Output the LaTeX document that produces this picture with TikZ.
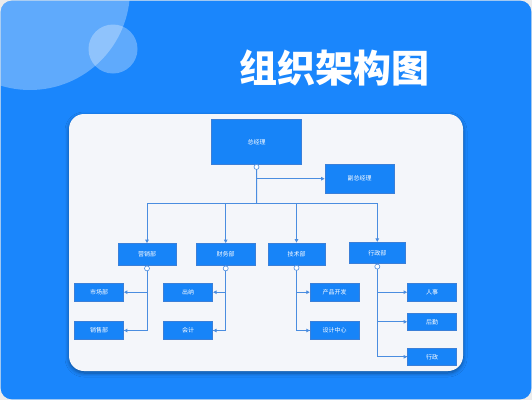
\documentclass[tikz,border=0pt]{standalone}
\usepackage{fontspec}
\newfontfamily\cjk{Noto Sans CJK SC}
\usetikzlibrary{arrows.meta,shadows.blur}
\definecolor{bgblue}{HTML}{1A86FC}
\definecolor{nodeblue}{HTML}{1784F8}
\definecolor{nodeedge}{HTML}{3A7FD8}
\definecolor{linkblue}{HTML}{4A8DE0}
\definecolor{panel}{HTML}{F4F6FA}
\tikzset{
  org/.style={draw=nodeedge, line width=0.8pt, fill=nodeblue, text=white, font=\cjk\fontsize{6}{7}\selectfont, inner sep=0pt, minimum width=#1, anchor=center},
  lvl1/.style={org=58pt, minimum height=22pt},
  lvl2/.style={org=49pt, minimum height=17.7pt},
  link/.style={draw=linkblue, line width=1pt, -{Triangle[length=3.5pt,width=3.5pt]}},
  plain/.style={draw=linkblue, line width=1pt},
  knob/.style={circle, draw=linkblue, line width=0.6pt, fill=white, inner sep=0pt, minimum size=5pt},
}
\begin{document}
\begin{tikzpicture}[x=1pt,y=-1pt]
\useasboundingbox (0,0) rectangle (532,400);
% background
\fill[white!85!gray] (0,0) rectangle (532,400);
\begin{scope}
\clip[rounded corners=11pt] (0.7,0.7) rectangle (531.3,399.3);
\fill[bgblue] (0,0) rectangle (532,400);
\fill[white, opacity=0.3] (30,-10) circle (100);
\fill[white, opacity=0.3] (113,49) circle (24.5);
\end{scope}
\node[text=white, font=\cjk\bfseries\fontsize{38}{40}\selectfont, inner sep=0pt] (title) at (334,68) {组织架构图};
% panel
\fill[panel, rounded corners=15pt, blur shadow={shadow blur steps=8, shadow xshift=0pt, shadow yshift=-2pt, shadow blur radius=4pt, shadow opacity=40}] (69,114) rectangle (463,371);
% nodes
\node[org=89.6pt, minimum height=44.7pt] (ceo) at (256.5,141.7) {总经理};
\node[org=69pt, minimum height=28.7pt] (vp) at (359.5,178.7) {副总经理};
\node[lvl1] (mkt) at (147,254.5) {营销部};
\node[lvl1, minimum width=59pt] (fin) at (225.7,254.5) {财务部};
\node[lvl1, minimum width=57pt] (tech) at (296.5,254) {技术部};
\node[lvl1, minimum width=55.7pt, minimum height=21.4pt] (adm) at (377.3,253) {行政部};
\node[lvl2] (mk1) at (99,292.2) {市场部};
\node[lvl2] (mk2) at (99,330.5) {销售部};
\node[lvl2] (fi1) at (188.2,292.2) {出纳};
\node[lvl2] (fi2) at (188.2,330.5) {会计};
\node[lvl2] (te1) at (334.7,292.2) {产品开发};
\node[lvl2] (te2) at (334.7,330.5) {设计中心};
\node[lvl2] (ad1) at (432,292.2) {人事};
\node[lvl2] (ad2) at (432,321.8) {后勤};
\node[lvl2] (ad3) at (432,356.8) {行政};
% junction coordinates
\coordinate (bus) at (256.7,203.3);
\coordinate (busL) at (147,203.3);
\coordinate (busR) at (377.3,203.3);
% top connectors
\draw[plain] (ceo.south) -- (bus);
\draw[link] (ceo.south |- vp.west) -- (vp.west);
\draw[plain] (busL) -- (busR);
\draw[link] (busL) -- (mkt.north);
\draw[link] (bus -| fin.north) -- (fin.north);
\draw[link] (bus -| tech.north) -- (tech.north);
\draw[link] (busR) -- (adm.north);
% level-2 connectors
\draw[plain] (mkt.south) |- (mk2.east);
\draw[link] (mkt.south |- mk1.east) -- (mk1.east);
\draw[link] (mkt.south |- mk2.east) -- (mk2.east);
\draw[plain] (fin.south) |- (fi2.east);
\draw[link] (fin.south |- fi1.east) -- (fi1.east);
\draw[link] (fin.south |- fi2.east) -- (fi2.east);
\draw[plain] (tech.south) |- (te2.west);
\draw[link] (tech.south |- te1.west) -- (te1.west);
\draw[link] (tech.south |- te2.west) -- (te2.west);
\draw[plain] (adm.south) |- (ad3.west);
\draw[link] (adm.south |- ad1.west) -- (ad1.west);
\draw[link] (adm.south |- ad2.west) -- (ad2.west);
\draw[link] (adm.south |- ad3.west) -- (ad3.west);
% knobs
\node[knob] (k0) at ([yshift=-2.5pt]ceo.south) {};
\node[knob] (k1) at ([yshift=-2.5pt]mkt.south) {};
\node[knob] (k2) at ([yshift=-2.5pt]fin.south) {};
\node[knob] (k3) at ([yshift=-2.5pt]tech.south) {};
\node[knob] (k4) at ([yshift=-2.5pt]adm.south) {};
\end{tikzpicture}
\end{document}
